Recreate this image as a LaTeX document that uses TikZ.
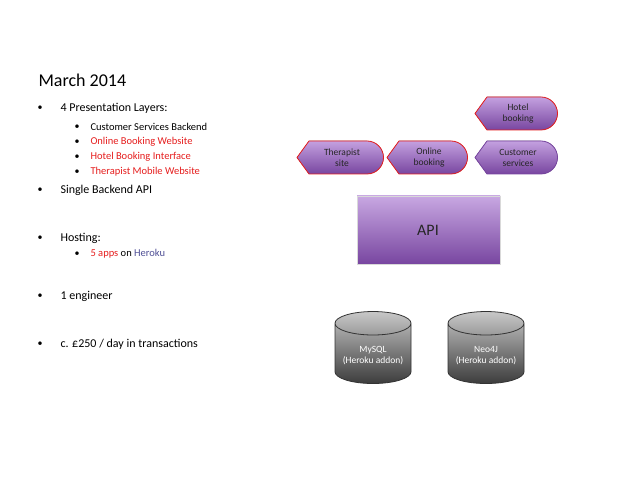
\documentclass[tikz,border=0pt]{standalone}
\usepackage{fontspec}
\setmainfont{Carlito}
\usetikzlibrary{shapes.geometric}
\definecolor{slidered}{RGB}{230,30,30}
\definecolor{herokublue}{RGB}{80,80,150}
\definecolor{tabpurple}{RGB}{170,120,210}
\definecolor{tabdark}{RGB}{120,70,160}
\definecolor{cyltop}{RGB}{200,200,200}
\definecolor{cylbot}{RGB}{60,60,60}

\tikzset{
  main/.style={anchor=west, font=\fontsize{12}{14}\selectfont},
  sub/.style={anchor=west, font=\fontsize{10.5}{12}\selectfont},
  dot/.style={anchor=center, font=\fontsize{10}{12}\selectfont},
  tabtext/.style={align=center, font=\fontsize{9.5}{11}\selectfont, text=black!85, inner sep=0pt},
  db/.style={cylinder, shape border rotate=90, aspect=0.35, draw=black!80, thick,
    minimum width=76pt, minimum height=72pt, top color=cyltop, bottom color=cylbot,
    align=center, text=white!85, font=\fontsize{9.5}{11}\selectfont}
}

% display tab: left point, rounded right end
\newcommand{\tab}[6]{% name, x1, x2, ytop, ybot, border
  \fill[top color=tabpurple!70, bottom color=tabdark, draw=#6, thick]
    (#2,{(#4+#5)/2}) -- (#2+12,#4) -- (#3-16,#4)
    arc[start angle=-90, end angle=90, radius={(#5-#4)/2}]
    -- (#2+12,#5) -- cycle;
  \coordinate (#1) at ({(#2+#3)/2+2},{(#4+#5)/2});
}

\begin{document}
\begin{tikzpicture}[x=1pt,y=-1pt]
  \useasboundingbox[fill=white] (0,0) rectangle (638,478);

  % Title and bullets
  \node[anchor=west, font=\fontsize{18}{20}\selectfont] (title) at (35,80) {March 2014};
  \node[dot] at (40,108) {•}; \node[main] (layers) at (57,108) {4 Presentation Layers:};
  \node[dot] at (77,127) {•}; \node[sub] (l1) at (87,127) {Customer Services Backend};
  \node[dot] at (77,142) {•}; \node[sub, text=slidered] (l2) at (87,142) {Online Booking Website};
  \node[dot] at (77,157) {•}; \node[sub, text=slidered] (l3) at (87,157) {Hotel Booking Interface};
  \node[dot] at (77,172) {•}; \node[sub, text=slidered] (l4) at (87,172) {Therapist Mobile Website};
  \node[dot] at (40,190) {•}; \node[main] (backend) at (57,190) {Single Backend API};
  \node[dot] at (40,238) {•}; \node[main] (hosting) at (57,238) {Hosting:};
  \node[dot] at (77,254) {•}; \node[sub] (apps) at (87,254)
    {\textcolor{slidered}{5 apps} on \textcolor{herokublue}{Heroku}};
  \node[dot] at (40,296) {•}; \node[main] (engineer) at (57,296) {1 engineer};
  \node[dot] at (40,344) {•}; \node[main] (trans) at (57,344) {c. £250 / day in transactions};

  % Presentation tabs
  \tab{hotel}{475}{557}{97}{130}{slidered}
  \tab{therapist}{297}{383}{141}{174}{slidered}
  \tab{online}{387}{467}{141}{174}{slidered}
  \tab{customer}{475}{557}{141}{174}{tabdark}
  \node[tabtext] at (hotel) {Hotel\\booking};
  \node[tabtext] at (therapist) {Therapist\\site};
  \node[tabtext] at (online) {Online\\booking};
  \node[tabtext] at (customer) {Customer\\services};

  % API
  \path[top color=tabpurple!65, bottom color=tabdark, draw=black!15]
    (357,196) rectangle (500,264);
  \node[font=\fontsize{16}{18}\selectfont, text=black!85] (api) at (428,230) {API};

  % Databases
  \node[db] (mysql) at (373,356) {MySQL\\(Heroku addon)};
  \node[db] (neo) at (486,356) {Neo4J\\(Heroku addon)};
\end{tikzpicture}
\end{document}
